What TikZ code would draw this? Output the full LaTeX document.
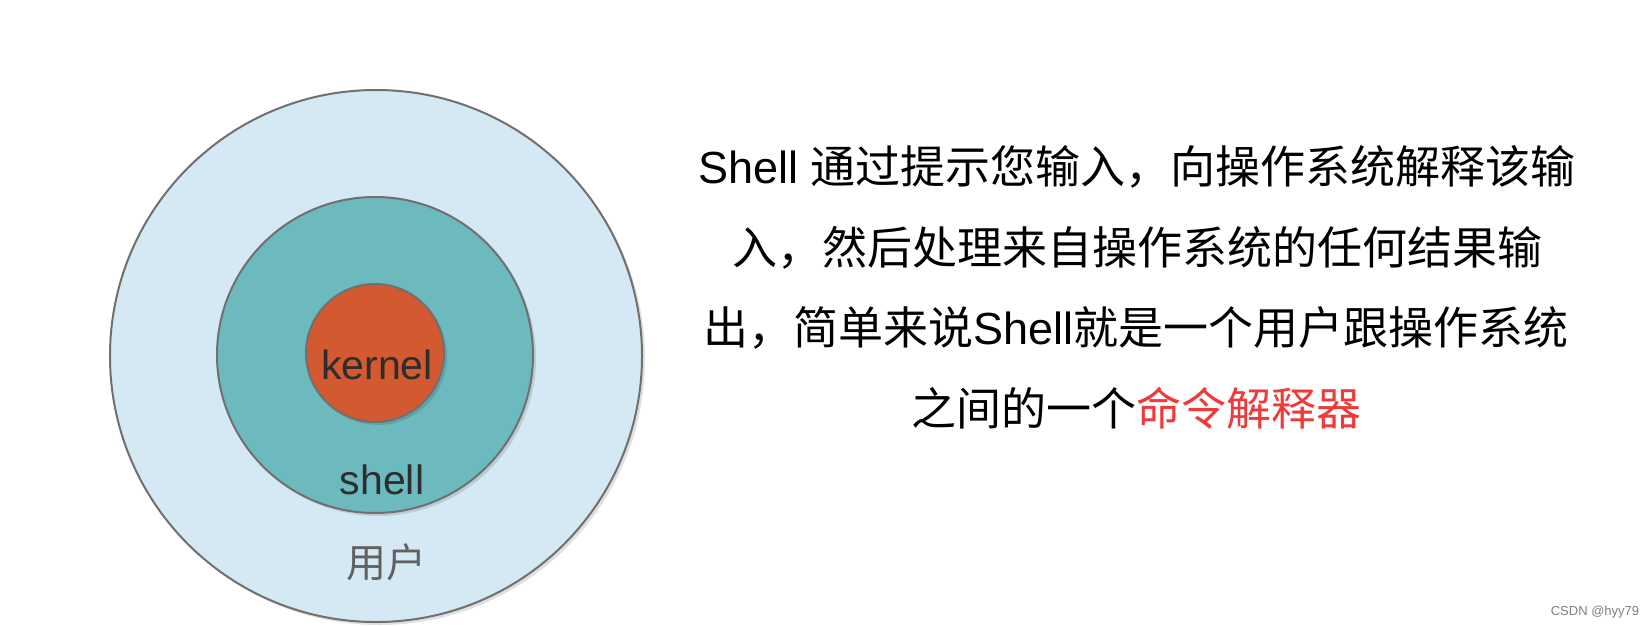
\documentclass[tikz,border=0pt]{standalone}
\usepackage{fontspec}
\setmainfont{Liberation Sans}
\newfontfamily\cjk{Noto Sans CJK SC}
\definecolor{userblue}{RGB}{212,233,243}
\definecolor{shellteal}{RGB}{108,186,190}
\definecolor{kernelred}{RGB}{210,89,48}
\definecolor{ringline}{RGB}{112,112,112}
\definecolor{hotred}{RGB}{240,58,58}
\definecolor{labeldark}{RGB}{45,45,45}
\begin{document}
\begin{tikzpicture}[x=1pt,y=-1pt,
  ring/.style={circle,draw=ringline,line width=2pt,inner sep=0pt},
  ringshadow/.style={fill=black,opacity=0.12},
  label/.style={inner sep=0pt,anchor=base,text=labeldark},
  para/.style={inner sep=0pt,anchor=base,font=\fontsize{45}{54}\selectfont}]
\useasboundingbox (0,0) rectangle (1646,626);
\fill[white] (0,0) rectangle (1646,626);
% shadows
\fill[ringshadow] (379,359) circle (266);
\node[ring,fill=userblue,minimum size=532pt] (user) at (376,356) {};
\fill[ringshadow] (378,358) circle (158);
\node[ring,fill=shellteal,minimum size=316pt] (shell) at (375,355) {};
\fill[ringshadow] (378,356) circle (69);
\node[ring,fill=kernelred,minimum size=138pt] (kernel) at (375,353) {};
\node[label,font=\fontsize{41}{49}\selectfont] (kernellbl) at (377,379) {kernel};
\node[label,font=\fontsize{41}{49}\selectfont] (shelllbl) at (382,494) {shell};
\node[inner sep=0pt,text=black!62,font=\cjk\fontsize{40}{48}\selectfont] (userlbl) at (386,562) {用户};
% description
\node[para] (l1) at (1137,183) {Shell {\cjk 通过提示您输入，向操作系统解释该输}};
\node[para] (l2) at (1137,264) {\cjk 入，然后处理来自操作系统的任何结果输};
\node[para] (l3) at (1136,344) {{\cjk 出，简单来说}Shell{\cjk 就是一个用户跟操作系统}};
\node[para] (l4) at (1136,425) {\cjk 之间的一个\textcolor{hotred}{命令解释器}};
\node[inner sep=0pt,text=black!50,font=\fontsize{13}{15}\selectfont] (wm) at (1595,612) {CSDN @hyy79};
\end{tikzpicture}
\end{document}
